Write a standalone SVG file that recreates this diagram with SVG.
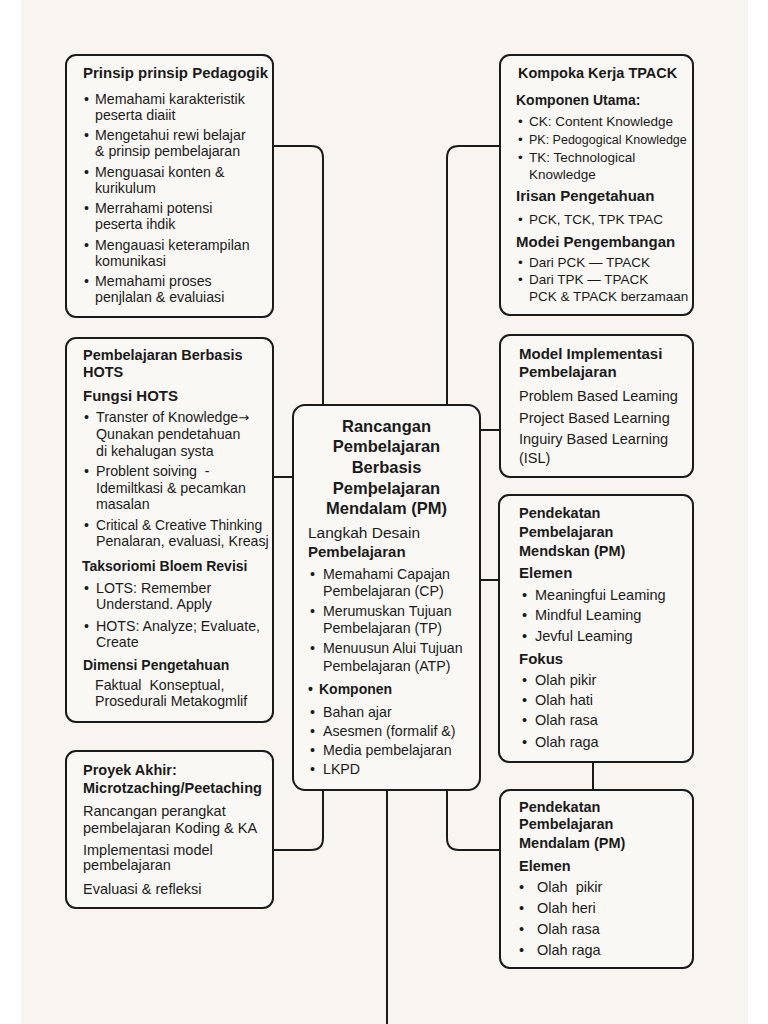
<svg xmlns="http://www.w3.org/2000/svg" width="768" height="1024" viewBox="0 0 768 1024">
<style>
.box{fill:#faf8f5;stroke:#1a1a1a;stroke-width:2}
.con{fill:none;stroke:#1a1a1a;stroke-width:2}
text{font-family:"Liberation Sans",Arial,sans-serif;fill:#1a1a1a}
.t{font-size:14.2px}
.tr{font-size:14.5px}
.tk{font-size:13.5px}
.h{font-size:15px;font-weight:700}
.h14{font-size:14px;font-weight:700}
.h145{font-size:14.5px;font-weight:700}
.ct{font-size:16.5px;font-weight:700;text-anchor:middle}
</style>
<rect x="0" y="0" width="768" height="1024" fill="#ffffff"/>
<rect x="21" y="0" width="727" height="1024" fill="#f8f5f1"/>

<g id="connectors">
<path class="con" d="M273,146 H311 Q323,146 323,158 V405"/>
<path class="con" d="M447,405 V158 Q447,146 459,146 H500"/>
<path class="con" d="M273,477 H293"/>
<path class="con" d="M480,430 H500"/>
<path class="con" d="M480,580 H499"/>
<path class="con" d="M593,762 V790"/>
<path class="con" d="M273,850 H311 Q323,850 323,838 V790"/>
<path class="con" d="M447,790 V838 Q447,850 459,850 H500"/>
<path class="con" d="M387,790 V1024"/>
</g>

<g id="prinsip">
<rect class="box" x="66" y="55" width="207" height="262" rx="10"/>
<text class="h" x="83" y="78">Prinsip prinsip Pedagogik</text>
<g class="t">
<text x="84" y="104">•</text><text x="95" y="104">Memahami karakteristik</text>
<text x="95" y="120">peserta diaiit</text>
<text x="84" y="140">•</text><text x="95" y="140">Mengetahui rewi belajar</text>
<text x="95" y="156">&amp; prinsip pembelajaran</text>
<text x="84" y="177">•</text><text x="95" y="177">Menguasai konten &amp;</text>
<text x="95" y="193">kurikulum</text>
<text x="84" y="213">•</text><text x="95" y="213">Merrahami potensi</text>
<text x="95" y="229">peserta ihdik</text>
<text x="84" y="250">•</text><text x="95" y="250">Mengauasi keterampilan</text>
<text x="95" y="266">komunikasi</text>
<text x="84" y="286">•</text><text x="95" y="286">Memahami proses</text>
<text x="95" y="302">penjlalan &amp; evaluiasi</text>
</g>
</g>

<g id="tpack">
<rect class="box" x="500" y="55" width="193" height="260" rx="10"/>
<text class="h145" x="518" y="78">Kompoka Kerja TPACK</text>
<text class="h14" x="516" y="105">Komponen Utama:</text>
<g class="tk">
<text x="518" y="126">•</text><text x="529" y="126">CK: Content Knowledge</text>
<text x="518" y="144">•</text><text x="529" y="144" style="font-size:12.5px">PK: Pedogogical Knowledge</text>
<text x="518" y="162">•</text><text x="529" y="162">TK: Technological</text>
<text x="529" y="179">Knowledge</text>
</g>
<text class="h" x="516" y="201">Irisan Pengetahuan</text>
<g class="tk">
<text x="518" y="224">•</text><text x="529" y="224">PCK, TCK, TPK TPAC</text>
</g>
<text class="h" x="516" y="247">Modei Pengembangan</text>
<g class="tk">
<text x="518" y="267">•</text><text x="529" y="267">Dari PCK — TPACK</text>
<text x="518" y="284">•</text><text x="529" y="284">Dari TPK — TPACK</text>
<text x="529" y="301">PCK &amp; TPACK berzamaan</text>
</g>
</g>

<g id="hots">
<rect class="box" x="66" y="338" width="207" height="384" rx="10"/>
<text class="h145" x="83" y="360">Pembelajaran Berbasis</text>
<text class="h145" x="83" y="377">HOTS</text>
<text class="h" x="83" y="401">Fungsi HOTS</text>
<g class="t">
<text x="84" y="422">•</text><text x="96" y="422">Transter of Knowledge<tspan style="font-family:'DejaVu Sans',sans-serif;font-size:13px">→</tspan></text>
<text x="96" y="439">Qunakan pendetahuan</text>
<text x="96" y="456">di kehalugan systa</text>
<text x="84" y="476">•</text><text x="96" y="476" xml:space="preserve">Problent soiving  -</text>
<text x="96" y="493">Idemiltkasi &amp; pecamkan</text>
<text x="96" y="509">masalan</text>
<text x="84" y="530">•</text><text x="96" y="530" style="font-size:13.8px">Critical &amp; Creative Thinking</text>
<text x="96" y="546">Penalaran, evaluasi, Kreasj</text>
</g>
<text class="h14" x="82" y="571">Taksoriomi Bloem Revisi</text>
<g class="t">
<text x="84" y="593">•</text><text x="96" y="593">LOTS: Remember</text>
<text x="96" y="609">Understand. Apply</text>
<text x="84" y="631">•</text><text x="96" y="631">HOTS: Analyze; Evaluate,</text>
<text x="96" y="647">Create</text>
</g>
<text class="h14" x="83" y="670">Dimensi Pengetahuan</text>
<g class="t">
<text x="95" y="690" xml:space="preserve">Faktual  Konseptual,</text>
<text x="95" y="706">Prosedurali Metakogmlif</text>
</g>
</g>

<g id="central">
<rect class="box" x="293" y="405" width="187" height="385" rx="12"/>
<text class="ct" x="386.5" y="432">Rancangan</text>
<text class="ct" x="386.5" y="452">Pembelajaran</text>
<text class="ct" x="386.5" y="473">Berbasis</text>
<text class="ct" x="386.5" y="494">Pemþelajaran</text>
<text class="ct" x="386.5" y="514">Mendalam (PM)</text>
<text x="308" y="538" style="font-size:15.5px">Langkah Desain</text>
<text class="h" x="308" y="557">Pembelajaran</text>
<g class="t">
<text x="310" y="579">•</text><text x="323" y="579">Memahami Capajan</text>
<text x="323" y="596">Pembelajaran (CP)</text>
<text x="310" y="616">•</text><text x="323" y="616">Merumuskan Tujuan</text>
<text x="323" y="633">Pembelajaran (TP)</text>
<text x="310" y="653">•</text><text x="323" y="653">Menuusun Alui Tujuan</text>
<text x="323" y="671">Pembelajaran (ATP)</text>
</g>
<text class="h14" x="308" y="694">•</text><text class="h14" x="319" y="694">Komponen</text>
<g class="t">
<text x="310" y="717">•</text><text x="323" y="717">Bahan ajar</text>
<text x="310" y="736">•</text><text x="323" y="736">Asesmen (formalif &amp;)</text>
<text x="310" y="755">•</text><text x="323" y="755">Media pembelajaran</text>
<text x="310" y="774">•</text><text x="323" y="774">LKPD</text>
</g>
</g>

<g id="model">
<rect class="box" x="500" y="335" width="193" height="142" rx="10"/>
<text class="h" x="519" y="359">Model Implementasi</text>
<text class="h" x="519" y="377">Pembelajaran</text>
<g class="tr">
<text x="519" y="401">Problem Based Leaming</text>
<text x="519" y="423">Project Based Learning</text>
<text x="519" y="444">Inguiry Based Learning</text>
<text x="519" y="463">(ISL)</text>
</g>
</g>

<g id="mendskan">
<rect class="box" x="499" y="495" width="194" height="267" rx="10"/>
<text class="h145" x="519" y="518">Pendekatan</text>
<text class="h145" x="519" y="537">Pembelajaran</text>
<text class="h145" x="519" y="556">Mendskan (PM)</text>
<text class="h" x="519" y="578">Elemen</text>
<g class="tr">
<text x="522" y="600">•</text><text x="535" y="600">Meaningfui Leaming</text>
<text x="522" y="620">•</text><text x="535" y="620">Mindful Leaming</text>
<text x="522" y="641">•</text><text x="535" y="641">Jevful Leaming</text>
</g>
<text class="h" x="519" y="664">Fokus</text>
<g class="tr">
<text x="522" y="685">•</text><text x="535" y="685">Olah pikir</text>
<text x="522" y="705">•</text><text x="535" y="705">Olah hati</text>
<text x="522" y="725">•</text><text x="535" y="725">Olah rasa</text>
<text x="522" y="747">•</text><text x="535" y="747">Olah raga</text>
</g>
</g>

<g id="proyek">
<rect class="box" x="66" y="751" width="207" height="157" rx="10"/>
<text class="h145" x="83" y="775">Proyek Akhir:</text>
<text class="h145" x="83" y="793">Microtzaching/Peetaching</text>
<g class="tr">
<text x="83" y="816">Rancangan perangkat</text>
<text x="83" y="833">pembelajaran Koding &amp; KA</text>
<text x="83" y="855">Implementasi model</text>
<text x="83" y="870">pembelajaran</text>
<text x="83" y="894">Evaluasi &amp; refleksi</text>
</g>
</g>

<g id="mendalam">
<rect class="box" x="500" y="790" width="193" height="178" rx="10"/>
<text class="h145" x="519" y="812">Pendekatan</text>
<text class="h145" x="519" y="829">Pembelajaran</text>
<text class="h145" x="519" y="848">Mendalam (PM)</text>
<text class="h145" x="519" y="871">Elemen</text>
<g class="tr">
<text x="519" y="892">•</text><text x="537" y="892" xml:space="preserve">Olah  pikir</text>
<text x="519" y="913">•</text><text x="537" y="913">Olah heri</text>
<text x="519" y="934">•</text><text x="537" y="934">Olah rasa</text>
<text x="519" y="955">•</text><text x="537" y="955">Olah raga</text>
</g>
</g>
</svg>
